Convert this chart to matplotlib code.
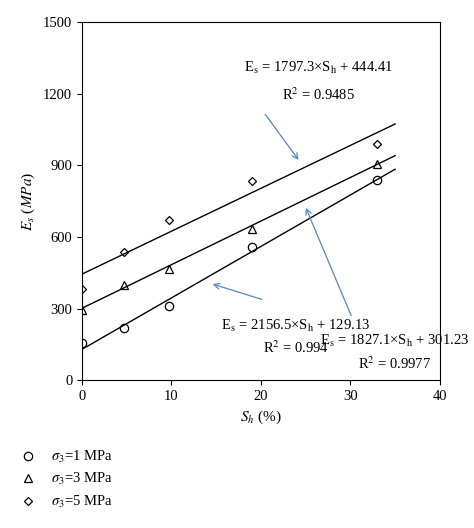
import numpy as np
import matplotlib.pyplot as plt
from matplotlib.lines import Line2D

plt.rcParams['font.family'] = ['Liberation Serif', 'DejaVu Serif']
plt.rcParams['mathtext.fontset'] = 'stix'

sh = [0, 4.7, 9.7, 19, 33]
es_1 = [155, 220, 310, 560, 840]
es_3 = [295, 400, 465, 635, 905]
es_5 = [380, 535, 670, 835, 990]
slopes = [2156.5, 1827.1, 1797.3]
intercepts = [129.13, 301.23, 444.41]
markers = ['o', '^', 'D']
labels = [r'$\sigma_3$=1 MPa', r'$\sigma_3$=3 MPa', r'$\sigma_3$=5 MPa']

fig = plt.figure(figsize=(4.74, 5.28), dpi=100)
ax = fig.add_axes([0.173, 0.28, 0.755, 0.678])

for ys, m in zip([es_1, es_3, es_5], markers):
    ax.plot(sh, ys, m, mfc='none', mec='black', ms=6 if m != 'D' else 4.5, mew=0.9)

x_fit = np.linspace(0, 35, 50)
for s, b in zip(slopes, intercepts):
    ax.plot(x_fit, s * x_fit / 100 + b, color='black', lw=1)

fs = 10.5
arrow = dict(arrowstyle='->', color='#5a86c0', lw=0.9)
# sigma3 = 5
ax.text(26.4, 1307, r'E$_\mathrm{s}$ = 1797.3×S$_\mathrm{h}$ + 444.41', ha='center', va='center', fontsize=fs)
ax.text(26.4, 1198, r'R$^2$ = 0.9485', ha='center', va='center', fontsize=fs)
ax.annotate('', xy=(24.4, 913), xytext=(20.3, 1123), arrowprops=arrow)
# sigma3 = 3
ax.text(34.9, 163, r'E$_\mathrm{s}$ = 1827.1×S$_\mathrm{h}$ + 301.23', ha='center', va='center', fontsize=fs, clip_on=False)
ax.text(34.9, 67, r'R$^2$ = 0.9977', ha='center', va='center', fontsize=fs)
ax.annotate('', xy=(24.9, 733), xytext=(30.2, 260), arrowprops=arrow)
# sigma3 = 1
ax.text(23.9, 226, r'E$_\mathrm{s}$ = 2156.5×S$_\mathrm{h}$ + 129.13', ha='center', va='center', fontsize=fs)
ax.text(23.9, 134, r'R$^2$ = 0.994', ha='center', va='center', fontsize=fs)
ax.annotate('', xy=(14.3, 406), xytext=(20.4, 335), arrowprops=arrow)

ax.set_xlim(0, 40)
ax.set_ylim(0, 1500)
ax.set_xticks([0, 10, 20, 30, 40])
ax.set_yticks([0, 300, 600, 900, 1200, 1500])
ax.tick_params(labelsize=10.5)
ax.set_xlabel(r'$S_h$ (%)', fontsize=11)
ax.set_ylabel(r'$E_s$ ($MPa$)', fontsize=11)

handles = [Line2D([], [], marker=m, ls='none', mfc='none', mec='black',
                  ms=6 if m != 'D' else 4.5, mew=0.9) for m in markers]
fig.legend(handles, labels, loc='upper left', bbox_to_anchor=(0.0, 0.175),
           frameon=False, fontsize=10.5, handletextpad=0.6, labelspacing=0.45)

fig.savefig('out.png', dpi=100)
